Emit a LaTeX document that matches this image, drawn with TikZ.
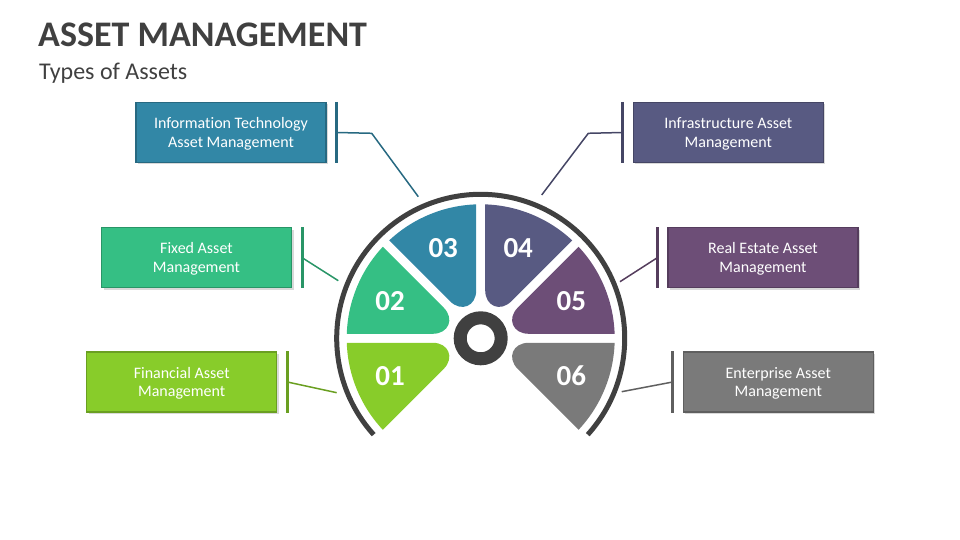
\documentclass[tikz,border=0pt]{standalone}
\usepackage{fontspec}
\setmainfont{Carlito}[Ligatures=NoCommon]
\usetikzlibrary{shadows}
\definecolor{dk}{HTML}{404040}
\definecolor{cA}{HTML}{88CC2A}
\definecolor{cB}{HTML}{35BF84}
\definecolor{cC}{HTML}{3287A6}
\definecolor{cD}{HTML}{585A82}
\definecolor{cE}{HTML}{6D4E77}
\definecolor{cF}{HTML}{7A7A7A}
\begin{document}
\begin{tikzpicture}[x=1pt,y=1pt,
  box/.style={draw=#1!78!black, fill=#1, line width=1.3pt, minimum width=190pt, minimum height=60pt,
    inner sep=2pt, text=white, align=center, font=\fontsize{16}{18.5}\selectfont, text depth=-1.5pt,
    drop shadow={shadow xshift=2pt,shadow yshift=-2pt,opacity=0.3}},
  barline/.style={draw=#1!78!black, line width=2.8pt},
  link/.style={draw=#1!78!black, line width=1.5pt},
  num/.style={text=white, font=\fontsize{29}{29}\selectfont\bfseries, inner sep=0pt}
]
\useasboundingbox (0,0) rectangle (960,540);

% titles
\node[anchor=base west, inner sep=0pt, text=dk, font=\fontsize{36}{36}\selectfont\bfseries] (title) at (38,493) {ASSET MANAGEMENT};
\node[anchor=base west, inner sep=0pt, text=dk, font=\fontsize{24}{24}\selectfont] (sub) at (39,460) {Types of Assets};

% wheel
\begin{scope}[shift={(480.7,201.7)}]
  \coordinate (c) at (0,0);
  \foreach \ang/\col in {180/cA,135/cB,90/cC,45/cD,0/cE,-45/cF}{
    \begin{scope}[rotate=\ang]
      \fill[\col] (1.924:134pt) arc[start angle=1.924, end angle=43.076, radius=134pt]
        -- (37.12pt,30.76pt) .. controls (25.83pt,19.47pt) and (32.03pt,4.5pt) .. (48pt,4.5pt) -- cycle;
    \end{scope}
  }
  \draw[dk, line width=5pt] (-42:144pt) arc[start angle=-42, end angle=222, radius=144pt];
  \draw[dk, line width=13pt] (c) circle[radius=20.5pt];
  \node[num] (n1) at (202.5:98pt) {01};
  \node[num] (n2) at (157.5:98pt) {02};
  \node[num] (n3) at (112.5:98pt) {03};
  \node[num] (n4) at (67.5:98pt) {04};
  \node[num] (n5) at (22.5:98pt) {05};
  \node[num] (n6) at (-22.5:98pt) {06};
\end{scope}

% boxes
\node[box=cC] (b3) at (231,407.5) {Information Technology\\Asset Management};
\node[box=cD] (b4) at (728.3,407.5) {Infrastructure Asset\\Management};
\node[box=cB] (b2) at (196.5,282.3) {Fixed Asset\\Management};
\node[box=cA] (b1) at (181.7,158) {Financial Asset\\Management};
\node[box=cE] (b5) at (763,282.3) {Real Estate Asset\\Management};
\node[box=cF] (b6) at (778.3,158) {Enterprise Asset\\Management};

% bars
\draw[barline=cC] ([xshift=10pt]b3.north east) -- ([xshift=10pt]b3.south east);
\draw[barline=cD] ([xshift=-10pt]b4.north west) -- ([xshift=-10pt]b4.south west);
\draw[barline=cB] ([xshift=10pt]b2.north east) -- ([xshift=10pt]b2.south east);
\draw[barline=cA] ([xshift=10pt]b1.north east) -- ([xshift=10pt]b1.south east);
\draw[barline=cE] ([xshift=-10pt]b5.north west) -- ([xshift=-10pt]b5.south west);
\draw[barline=cF] ([xshift=-10pt]b6.north west) -- ([xshift=-10pt]b6.south west);

% connector ends
\coordinate (m3) at (371.7,406.7);
\coordinate (e3) at (418.3,343.3);
\coordinate (m4) at (588.3,406.7);
\coordinate (e4) at (541.7,345);
\coordinate (e2) at (338.3,259.3);
\coordinate (e1) at (336.7,147.3);
\coordinate (e5) at (620,258.3);
\coordinate (e6) at (621.7,148.3);

\draw[link=cC] ([xshift=10pt]b3.east) -- (m3) -- (e3);
\draw[link=cD] ([xshift=-10pt]b4.west) -- (m4) -- (e4);
\draw[link=cB] ([xshift=10pt]b2.east) -- (e2);
\draw[link=cA] ([xshift=10pt]b1.east) -- (e1);
\draw[link=cE] ([xshift=-10pt]b5.west) -- (e5);
\draw[link=cF] ([xshift=-10pt]b6.west) -- (e6);
\end{tikzpicture}
\end{document}
